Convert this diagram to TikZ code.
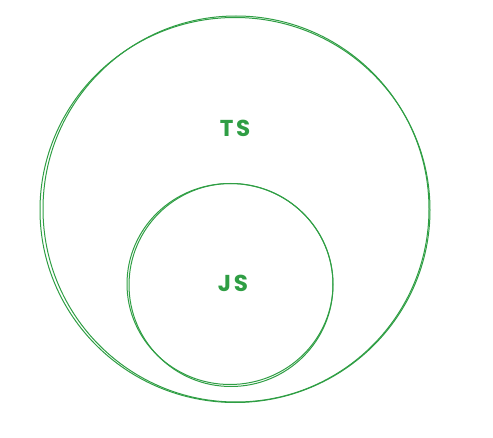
\documentclass[tikz,border=0pt]{standalone}
\usepackage{fontspec}
\setmainfont{Fira Sans}
\newfontfamily\handfont[LetterSpace=12]{Poppins}
\usetikzlibrary{shapes.geometric}
\definecolor{exgreen}{HTML}{2F9E44}
\begin{document}
\begin{tikzpicture}[x=1pt,y=1pt,
  sketch/.style={draw=exgreen, line width=1pt},
  lbl/.style={text=exgreen, font=\handfont\fontsize{23}{23}\selectfont\bfseries}]
\useasboundingbox (0,0) rectangle (493,437);
% outer circle (two strokes for a hand-drawn look)
\node[sketch, ellipse, minimum width=390pt, minimum height=385pt, inner sep=0pt] (ts) at (235,227) {};
\draw[sketch] (236,228) ellipse [x radius=193, y radius=193];
% inner circle
\node[sketch, ellipse, minimum width=206pt, minimum height=201pt, inner sep=0pt] (js) at (230,153) {};
\draw[sketch] (231,152) ellipse [x radius=102, y radius=101.5];
\node[lbl] (tslbl) at (235,309) {TS};
\node[lbl] (jslbl) at (233,154) {JS};
\end{tikzpicture}
\end{document}
